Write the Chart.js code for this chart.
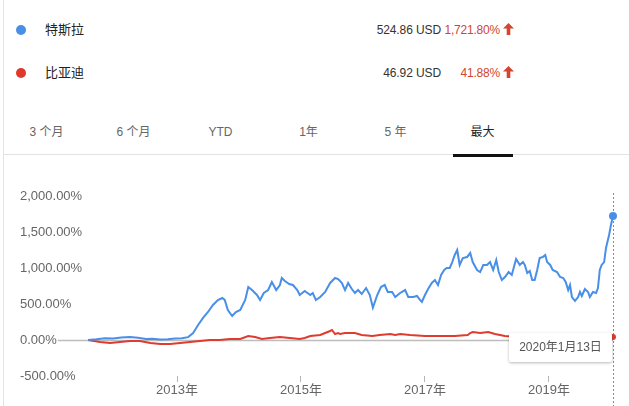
<!DOCTYPE html>
<html>
<head>
<meta charset="utf-8">
<script src="https://cdn.jsdelivr.net/npm/chart.js@4"></script>
<style>
  html, body { margin: 0; padding: 0; background: #fff; }
  body { width: 629px; height: 406px; position: relative; overflow: hidden;
         font-family: "Liberation Sans", Arial, "Noto Sans CJK SC", sans-serif; }
  .vline { position: absolute; left: 3px; top: 0; width: 1px; height: 406px; background: #e3e3e3; }
  .dot { position: absolute; width: 10px; height: 10px; border-radius: 50%; }
  .name { position: absolute; left: 45px; font-size: 13px; color: #222; line-height: 16px; }
  .val { position: absolute; right: 188px; font-size: 12px; color: #333; line-height: 16px; letter-spacing: -0.1px; }
  .pct { position: absolute; right: 129px; font-size: 12px; color: #d2452f; line-height: 16px; letter-spacing: -0.2px; }
  .arrow { position: absolute; left: 503px; width: 11px; height: 12px; }
  .tab { position: absolute; top: 124px; width: 87px; text-align: center; font-size: 12px; color: #666; line-height: 16px; }
  .sep { position: absolute; left: 3px; top: 154px; width: 626px; height: 1px; background: #e3e3e3; }
  .under { position: absolute; left: 453px; top: 154px; width: 60px; height: 3px; background: #111; }
  #wrap { position: absolute; left: 0; top: 170px; width: 629px; height: 236px; }
  .tip { position: absolute; left: 509px; top: 333px; width: 103px; height: 29px; background: #fff;
         box-shadow: 0 1px 3px rgba(0,0,0,0.28); border-radius: 2px; font-size: 12px; color: #555;
         text-align: center; line-height: 29px; }
</style>
</head>
<body>
<div class="vline"></div>

<div class="dot" style="left:16px; top:25px; background:#4a8fe7"></div>
<div class="name" style="top:22px">特斯拉</div>
<div class="val" style="top:22px">524.86 USD</div>
<div class="pct" style="top:22px">1,721.80%</div>
<svg class="arrow" style="top:23px" viewBox="0 0 11 12"><path d="M5.5 0 L11 5.5 L7.3 5.5 L7.3 12 L3.7 12 L3.7 5.5 L0 5.5 Z" fill="#d2452f"/></svg>

<div class="dot" style="left:16px; top:68px; background:#e0392b"></div>
<div class="name" style="top:65px">比亚迪</div>
<div class="val" style="top:65px">46.92 USD</div>
<div class="pct" style="top:65px">41.88%</div>
<svg class="arrow" style="top:66px" viewBox="0 0 11 12"><path d="M5.5 0 L11 5.5 L7.3 5.5 L7.3 12 L3.7 12 L3.7 5.5 L0 5.5 Z" fill="#d2452f"/></svg>

<div class="tab" style="left:3px">3 个月</div>
<div class="tab" style="left:90px">6 个月</div>
<div class="tab" style="left:177px">YTD</div>
<div class="tab" style="left:265px">1年</div>
<div class="tab" style="left:352px">5 年</div>
<div class="tab" style="left:439px; color:#222">最大</div>
<div class="sep"></div>
<div class="under"></div>

<div id="wrap"><canvas id="c" width="629" height="236"></canvas></div>
<div class="tip">2020年1月13日</div>

<script>
// ---- data (decimal years, percent change) ----
const teslaYears = [2011.565, 2011.70, 2011.84, 2011.97, 2012.10, 2012.24, 2012.37, 2012.50, 2012.60, 2012.73,
  2012.85, 2012.97, 2013.08, 2013.18, 2013.26, 2013.34, 2013.42, 2013.50, 2013.58, 2013.66,
  2013.73, 2013.77, 2013.82, 2013.89, 2013.95, 2014.02, 2014.10, 2014.15, 2014.21, 2014.29,
  2014.34, 2014.40, 2014.47, 2014.53, 2014.60, 2014.66, 2014.69, 2014.74, 2014.81, 2014.87,
  2014.94, 2014.98, 2015.06, 2015.15, 2015.19, 2015.24, 2015.31, 2015.39, 2015.47, 2015.55,
  2015.60, 2015.66, 2015.71, 2015.76, 2015.82, 2015.87, 2015.92, 2015.98, 2016.05, 2016.11,
  2016.16, 2016.23, 2016.29, 2016.35, 2016.40, 2016.47, 2016.52, 2016.60, 2016.68, 2016.73,
  2016.81, 2016.87, 2016.92, 2016.95, 2017.00, 2017.05, 2017.11, 2017.16, 2017.21, 2017.26,
  2017.31, 2017.35, 2017.40, 2017.44, 2017.48, 2017.52, 2017.56, 2017.61, 2017.68, 2017.73,
  2017.77, 2017.84, 2017.89, 2017.94, 2018.00, 2018.05, 2018.10, 2018.15, 2018.19, 2018.24,
  2018.29, 2018.35, 2018.40, 2018.47, 2018.53, 2018.58, 2018.61, 2018.65, 2018.69, 2018.73,
  2018.77, 2018.81, 2018.85, 2018.90, 2018.94, 2018.97, 2019.02, 2019.06, 2019.13, 2019.18,
  2019.23, 2019.27, 2019.31, 2019.34, 2019.37, 2019.42, 2019.47, 2019.50, 2019.53, 2019.58,
  2019.63, 2019.66, 2019.71, 2019.76, 2019.79, 2019.82, 2019.85, 2019.89, 2019.92, 2019.97,
  2020.00, 2020.033];
const teslaPct = [0, 10, 25, 20, 35, 40, 30, 15, 18, 8,
  10, 20, 25, 40, 97, 208, 306, 389, 486, 556,
  583, 556, 417, 333, 389, 417, 556, 736, 694, 625,
  556, 653, 694, 806, 694, 764, 861, 819, 778, 764,
  694, 625, 681, 625, 653, 556, 597, 667, 792, 861,
  847, 792, 694, 792, 708, 653, 694, 639, 722, 625,
  450, 625, 736, 764, 667, 667, 597, 653, 694, 597,
  597, 611, 556, 528, 625, 708, 792, 833, 764, 903,
  972, 1000, 1000, 1083, 1181, 1250, 1042, 1139, 1153, 1208,
  1083, 972, 944, 1042, 1042, 1083, 972, 1111, 944, 833,
  875, 944, 903, 1125, 1042, 1083, 1042, 931, 958, 833,
  833, 972, 1139, 1153, 1181, 1083, 1042, 972, 944, 875,
  861, 806, 694, 764, 597, 542, 597, 667, 611, 708,
  667, 597, 667, 653, 722, 972, 1042, 1083, 1278, 1458,
  1597, 1721.8];

const bydYears = [2011.565, 2011.76, 2011.92, 2012.08, 2012.24, 2012.40, 2012.57, 2012.73, 2012.89, 2013.05,
  2013.21, 2013.37, 2013.53, 2013.69, 2013.85, 2014.02, 2014.15, 2014.26, 2014.37, 2014.50,
  2014.66, 2014.82, 2014.98, 2015.06, 2015.15, 2015.31, 2015.39, 2015.47, 2015.50, 2015.55,
  2015.60, 2015.63, 2015.71, 2015.82, 2015.87, 2015.98, 2016.15, 2016.27, 2016.44, 2016.52,
  2016.60, 2016.76, 2017.00, 2017.24, 2017.48, 2017.69, 2017.73, 2017.77, 2017.89, 2018.02,
  2018.13, 2018.21, 2018.29, 2018.50, 2018.70, 2018.90, 2019.10, 2019.30, 2019.50, 2019.70,
  2019.90, 2020.033];
const bydPct = [0, -28, -42, -28, -14, -14, -42, -56, -56, -42,
  -28, -14, 0, 0, 14, 14, 56, 42, 14, 28,
  42, 28, 14, 28, 56, 69, 97, 125, 139, 83,
  97, 83, 97, 97, 97, 69, 56, 69, 83, 69,
  83, 69, 56, 56, 56, 69, 97, 111, 97, 111,
  83, 69, 56, 40, 30, 20, 35, 25, 15, 10,
  30, 41.88];

const xTickYears = [2013, 2015, 2017, 2019];
const yTickValues = [-500, 0, 500, 1000, 1500, 2000];

const FONT = '"Liberation Sans", Arial, "Noto Sans CJK SC", sans-serif';
const toPts = (xs, ys) => xs.map((x, i) => ({ x: x, y: ys[i] }));
const fmtPct = v => v.toLocaleString('en-US', { minimumFractionDigits: 2, maximumFractionDigits: 2 }) + '%';

const overlays = {
  id: 'overlays',
  beforeDatasetsDraw(chart) {
    const ctx = chart.ctx;
    const xs = chart.scales.x, ys = chart.scales.y;
    ctx.save();
    // zero baseline, starting right after the "0.00%" label
    ctx.font = '13px ' + FONT;
    const startX = ys.left + ctx.measureText(fmtPct(0)).width + 1;
    const y0 = Math.round(ys.getPixelForValue(0)) + 0.5;
    ctx.strokeStyle = '#bdbdbd';
    ctx.lineWidth = 1.5;
    ctx.beginPath();
    ctx.moveTo(startX, y0);
    ctx.lineTo(chart.chartArea.right, y0);
    ctx.stroke();
    // dashed cursor line at the last date
    const x = Math.round(xs.getPixelForValue(teslaYears[teslaYears.length - 1])) + 0.5;
    ctx.strokeStyle = '#8a8a8a';
    ctx.lineWidth = 1;
    ctx.setLineDash([2, 2]);
    ctx.beginPath();
    ctx.moveTo(x, chart.chartArea.top - 3);
    ctx.lineTo(x, chart.height);
    ctx.stroke();
    ctx.restore();
  }
};

new Chart(document.getElementById('c'), {
  type: 'line',
  data: {
    datasets: [
      {
        data: toPts(teslaYears, teslaPct),
        borderColor: '#4a8fe7',
        backgroundColor: '#4a8fe7',
        borderWidth: 2,
        tension: 0,
        pointRadius: c => c.dataIndex === teslaYears.length - 1 ? 4 : 0,
        pointBorderWidth: 0,
        clip: false
      },
      {
        data: toPts(bydYears, bydPct),
        borderColor: '#df3b2e',
        backgroundColor: '#df3b2e',
        borderWidth: 2,
        tension: 0,
        pointRadius: c => c.dataIndex === bydYears.length - 1 ? 3 : 0,
        pointBorderWidth: 0,
        clip: false
      }
    ]
  },
  options: {
    responsive: false,
    animation: false,
    devicePixelRatio: 1,
    layout: { padding: { left: 20, right: 16, top: 26, bottom: 0 } },
    plugins: { legend: { display: false }, tooltip: { enabled: false } },
    scales: {
      x: {
        type: 'linear',
        min: 2011.532,
        max: 2020.033,
        afterFit: s => { s.height = 30; },
        afterBuildTicks: s => { s.ticks = xTickYears.map(v => ({ value: v })); },
        border: { display: false },
        grid: { display: true, drawOnChartArea: false, drawTicks: true, tickLength: 6, color: '#b5b5b5' },
        ticks: {
          padding: 1,
          color: '#666',
          font: { family: FONT, size: 13 },
          maxRotation: 0,
          callback: v => v + '年'
        }
      },
      y: {
        min: -500,
        max: 2000,
        afterFit: s => { s.width = 66; },
        afterBuildTicks: s => { s.ticks = yTickValues.map(v => ({ value: v })); },
        border: { display: false },
        grid: { display: false },
        ticks: {
          crossAlign: 'far',
          padding: 0,
          color: '#666',
          font: { family: FONT, size: 13 },
          callback: v => fmtPct(v)
        }
      }
    }
  },
  plugins: [overlays]
});
</script>
</body>
</html>
